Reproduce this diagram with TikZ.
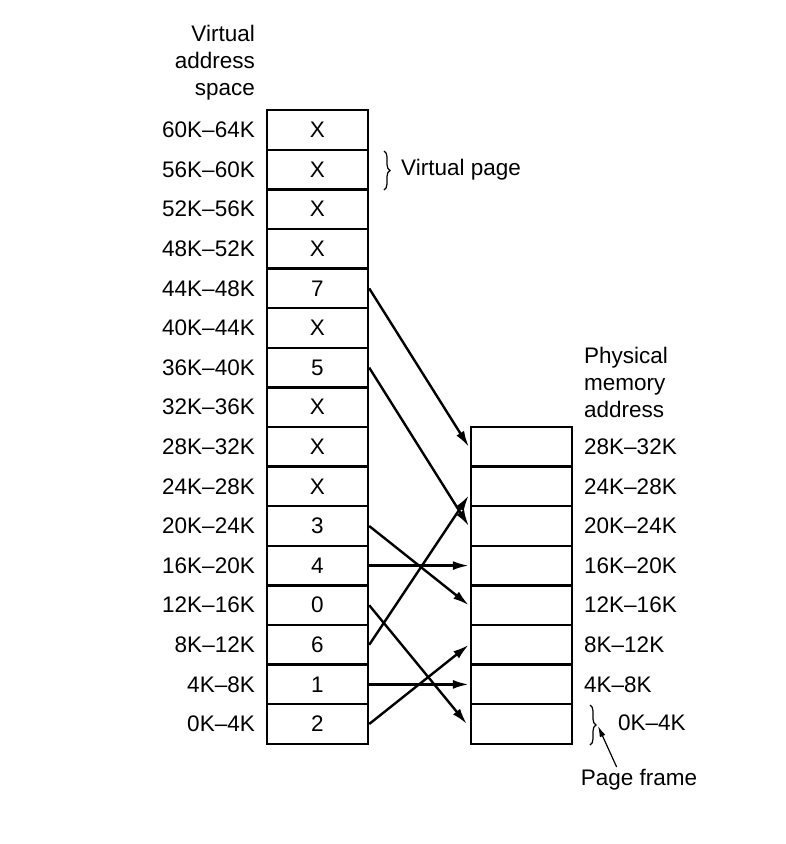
\documentclass[tikz,border=0pt]{standalone}
\usepackage{fontspec}
\setmainfont{Liberation Sans}
\usetikzlibrary{decorations.pathreplacing,arrows.meta,calc}
\begin{document}
\begin{tikzpicture}[x=1pt,y=-1pt,
  cell/.style={draw,line width=2.4pt,minimum width=101pt,minimum height=39.6pt,inner sep=0pt,font=\fontsize{22.5}{26}\selectfont},
  lbl/.style={font=\fontsize{22.5}{27}\selectfont,inner sep=0pt},
  map/.style={line width=2.4pt,-{Latex[length=16pt,width=9pt]}}]
\useasboundingbox (0,0) rectangle (786,844);
\foreach \i/\v/\r in {15/X/60K--64K,14/X/56K--60K,13/X/52K--56K,12/X/48K--52K,11/7/44K--48K,10/X/40K--44K,9/5/36K--40K,8/X/32K--36K,7/X/28K--32K,6/X/24K--28K,5/3/20K--24K,4/4/16K--20K,3/0/12K--16K,2/6/8K--12K,1/1/4K--8K,0/2/0K--4K}{
  \node[cell] (v\i) at (317.5,{724-39.6*\i}) {\v};
  \node[lbl,anchor=east] (vl\i) at (255,{724-39.6*\i}) {\r};
}
\foreach \i/\r in {7/28K--32K,6/24K--28K,5/20K--24K,4/16K--20K,3/12K--16K,2/8K--12K,1/4K--8K}{
  \node[cell] (p\i) at (521.5,{724-39.6*\i}) {};
  \node[lbl,anchor=west] (pl\i) at (584,{724-39.6*\i}) {\r};
}
\node[cell] (p0) at (521.5,724) {};
\node[lbl,anchor=west] (pl0) at (618,723) {0K--4K};
\node[lbl,anchor=south east,align=right] (vas) at (255,100) {Virtual\\address\\space};
\node[lbl,anchor=south west,align=left] (pma) at (584,418) {Physical\\memory\\address};
\node[lbl,anchor=west] (vp) at (401,170) {Virtual page};
\draw[line width=1.2pt,decoration={brace,amplitude=6pt},decorate] (384,151) -- (384,190);
\draw[line width=1.2pt,decoration={brace,amplitude=6pt},decorate] (590,705) -- (590,745);
\node[lbl,anchor=north] (pf) at (639,769) {Page frame};
\coordinate (bt) at (598,726);
\draw[line width=1.2pt,-{Latex[length=11pt,width=6pt]}] ($(pf.north west)+(36,-2)$) -- (bt);
\draw[map] (v11.east) -- ($(p7.west)+(-1,0)$);
\draw[map] (v9.east) -- ($(p5.west)+(-1,0)$);
\draw[map] (v5.east) -- ($(p3.west)+(-1,0)$);
\draw[map] (v4.east) -- ($(p4.west)+(-1,0)$);
\draw[map] (v3.east) -- ($(p0.west)+(-3,0)$);
\draw[map] (v2.east) -- ($(p6.west)+(-1,9)$);
\draw[map] (v1.east) -- ($(p1.west)+(-1,0)$);
\draw[map] (v0.east) -- ($(p2.west)+(-1,0)$);
\end{tikzpicture}
\end{document}
